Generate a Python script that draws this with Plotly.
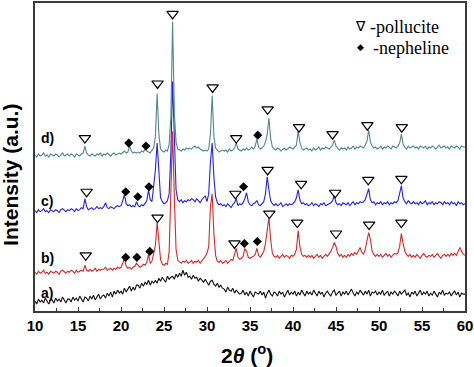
import numpy as np
import plotly.graph_objects as go

# 2-theta sampling (degrees), 0.2 step from 10 to 60
two_theta = np.round(np.arange(10.0, 60.0001, 0.2), 1)

# a) amorphous precursor (black)
int_a = [
    10, 7, 12, 9, 11, 8, 13, 10, 7, 11,
    11, 8, 13, 10, 12, 9, 14, 11, 8, 12,
    12, 9, 14, 11, 13, 10, 15, 12, 9, 14,
    13, 10, 15, 12, 16, 11, 14, 17, 12, 15,
    16, 13, 18, 15, 19, 14, 20, 17, 21, 18,
    20, 17, 23, 19, 22, 25, 20, 24, 21, 26,
    26, 23, 28, 25, 29, 27, 31, 26, 30, 28,
    31, 28, 33, 30, 34, 31, 29, 35, 32, 34,
    35, 32, 37, 34, 38, 35, 41, 36, 39, 34,
    35, 32, 36, 33, 34, 30, 33, 31, 29, 32,
    29, 26, 30, 31, 27, 25, 28, 24, 26, 23,
    22, 19, 24, 21, 20, 23, 18, 21, 19, 17,
    18, 21, 16, 19, 15, 20, 17, 14, 19, 18,
    17, 20, 16, 19, 13, 18, 21, 17, 15, 19,
    18, 15, 20, 17, 19, 14, 18, 21, 16, 19,
    17, 20, 15, 19, 16, 21, 18, 15, 20, 17,
    19, 16, 21, 18, 15, 20, 17, 19, 14, 18,
    20, 17, 15, 19, 21, 16, 18, 20, 15, 19,
    17, 20, 16, 19, 22, 18, 15, 19, 17, 21,
    18, 16, 20, 17, 21, 15, 19, 18, 20, 16,
    19, 17, 21, 16, 18, 20, 15, 19, 17, 20,
    18, 15, 20, 17, 19, 21, 16, 18, 14, 19,
    17, 20, 15, 18, 21, 16, 19, 17, 20, 15,
    18, 16, 20, 17, 14, 19, 17, 21, 16, 18,
    17, 19, 15, 18, 20, 16, 19, 14, 18, 17,
    17,
]

# b) (red)
int_b = [
    39, 37, 40, 38, 39, 41, 38, 39, 37, 40,
    39, 38, 40, 39, 37, 40, 41, 39, 38, 40,
    39, 41, 40, 38, 41, 39, 40, 41, 40, 46,
    41, 40, 42, 40, 41, 43, 40, 42, 41, 42,
    42, 44, 41, 42, 43, 41, 43, 42, 44, 43,
    44, 48, 53, 45, 43, 44, 42, 44, 45, 48,
    46, 44, 45, 47, 46, 49, 57, 48, 50, 58,
    66, 89, 72, 52, 47, 46, 48, 47, 60, 110,
    181, 115, 62, 51, 49, 48, 50, 49, 51, 48,
    49, 51, 48, 50, 49, 51, 48, 50, 52, 55,
    58, 65, 105, 118, 78, 56, 50, 49, 51, 48,
    49, 51, 48, 50, 52, 51, 57, 63, 54, 52,
    53, 55, 63, 60, 54, 53, 54, 55, 57, 63,
    56, 54, 57, 60, 68, 80, 94, 72, 58, 55,
    54, 56, 53, 55, 57, 54, 56, 55, 53, 56,
    55, 57, 62, 81, 65, 57, 55, 56, 54, 56,
    54, 56, 53, 55, 57, 54, 56, 53, 55, 57,
    55, 57, 60, 64, 69, 65, 58, 55, 57, 54,
    56, 54, 57, 55, 58, 56, 59, 57, 61, 64,
    59, 57, 62, 70, 79, 72, 60, 57, 55, 57,
    55, 57, 54, 56, 58, 55, 57, 54, 56, 58,
    57, 59, 65, 78, 68, 60, 57, 55, 57, 54,
    56, 54, 57, 55, 53, 56, 58, 55, 54, 56,
    55, 57, 54, 56, 58, 55, 53, 56, 57, 55,
    57, 55, 58, 56, 58, 56, 60, 64, 60, 57,
    56,
]

# c) (blue)
int_c = [
    101, 99, 102, 100, 101, 103, 100, 101, 99, 102,
    101, 100, 102, 101, 99, 102, 103, 101, 100, 102,
    101, 103, 102, 100, 103, 101, 102, 104, 103, 113,
    105, 102, 103, 104, 102, 103, 105, 103, 104, 103,
    105, 109, 104, 103, 105, 104, 103, 105, 106, 105,
    106, 111, 117, 108, 106, 107, 105, 106, 105, 110,
    106, 105, 107, 106, 108, 111, 122, 112, 110, 125,
    142, 169, 138, 114, 110, 108, 109, 111, 118, 160,
    231, 165, 122, 112, 110, 112, 109, 111, 110, 112,
    111, 113, 112, 110, 113, 111, 109, 112, 114, 116,
    110, 118, 150, 169, 135, 115, 109, 107, 108, 106,
    107, 105, 108, 106, 104, 107, 109, 113, 106, 108,
    107, 109, 113, 119, 110, 107, 106, 108, 109, 111,
    107, 106, 108, 110, 118, 135, 122, 111, 108, 106,
    108, 106, 107, 109, 105, 107, 108, 106, 108, 107,
    108, 110, 114, 122, 112, 108, 109, 107, 108, 106,
    107, 109, 106, 108, 107, 105, 108, 107, 109, 106,
    107, 108, 109, 111, 116, 109, 107, 108, 106, 109,
    108, 107, 109, 106, 108, 110, 107, 109, 108, 110,
    109, 110, 112, 118, 123, 112, 109, 110, 107, 109,
    108, 110, 107, 109, 108, 110, 107, 109, 108, 110,
    109, 111, 120, 126, 114, 110, 108, 111, 109, 108,
    110, 108, 109, 107, 110, 108, 109, 111, 107, 109,
    108, 110, 107, 109, 108, 110, 109, 107, 110, 108,
    109, 107, 110, 108, 109, 106, 110, 108, 109, 107,
    108,
]

# d) (teal)
int_d = [
    157, 155, 158, 156, 157, 159, 156, 157, 155, 158,
    157, 156, 158, 157, 155, 157, 159, 156, 157, 158,
    156, 158, 157, 155, 158, 157, 156, 158, 159, 166,
    159, 157, 156, 158, 157, 156, 158, 157, 159, 156,
    158, 157, 159, 157, 156, 158, 159, 157, 158, 159,
    158, 160, 161, 159, 160, 166, 161, 159, 160, 159,
    160, 159, 161, 160, 163, 161, 160, 159, 162, 164,
    176, 219, 178, 163, 161, 160, 162, 161, 168, 196,
    291, 200, 170, 163, 162, 161, 163, 162, 164, 163,
    164, 163, 165, 166, 164, 165, 163, 162, 161, 162,
    161, 163, 178, 217, 176, 164, 162, 160, 161, 162,
    161, 162, 160, 163, 161, 162, 164, 169, 163, 162,
    161, 163, 162, 164, 162, 163, 165, 163, 166, 173,
    165, 163, 164, 166, 170, 178, 194, 174, 165, 163,
    162, 164, 163, 161, 163, 164, 162, 163, 165, 164,
    163, 165, 167, 181, 170, 164, 162, 163, 164, 162,
    163, 161, 164, 162, 163, 165, 162, 164, 163, 165,
    164, 163, 165, 167, 172, 166, 164, 162, 164, 163,
    164, 162, 165, 163, 164, 166, 163, 165, 164, 166,
    165, 164, 167, 171, 182, 170, 166, 164, 165, 163,
    164, 166, 163, 165, 164, 166, 165, 163, 166, 165,
    164, 166, 169, 178, 168, 165, 163, 166, 164, 165,
    166, 164, 165, 163, 166, 165, 164, 166, 163, 165,
    164, 166, 165, 163, 165, 167, 164, 165, 166, 164,
    165, 163, 166, 165, 164, 166, 165, 163, 166, 165,
    165,
]

# phase marker positions (2theta, intensity)
poll_d_x = [15.8, 24.25, 26.0, 30.65, 33.4, 37.05, 40.7, 44.6, 48.65, 52.65]
poll_d_y = [174, 229, 299, 225, 174, 203, 185, 178, 187, 185]
neph_d_x = [20.9, 22.9, 35.9]
neph_d_y = [169, 166, 177]

poll_c_x = [16.0, 33.3, 37.05, 40.95, 44.9, 48.75, 52.6]
poll_c_y = [120, 118, 142, 128, 119, 132, 133]
neph_c_x = [20.55, 21.95, 23.25, 34.25]
neph_c_y = [120, 115, 125, 125]

poll_b_x = [15.9, 24.25, 33.2, 37.25, 40.5, 45.0, 48.85, 52.6]
poll_b_y = [56, 94, 68, 98, 89, 78, 87, 89]
neph_b_x = [20.55, 21.85, 23.35, 34.35, 35.85]
neph_b_y = [54, 54, 60, 68, 70]

series = [
    ("a)", int_a, "#111111"),
    ("b)", int_b, "#d42a2a"),
    ("c)", int_c, "#2424e6"),
    ("d)", int_d, "#4f8a84"),
]

fig = go.Figure()
for name, vals, col in series:
    fig.add_trace(go.Scatter(x=two_theta, y=vals, mode="lines", name=name,
                             line=dict(color=col, width=1.1), showlegend=False,
                             hoverinfo="skip"))

poll_x = poll_d_x + poll_c_x + poll_b_x
poll_y = poll_d_y + poll_c_y + poll_b_y
neph_x = neph_d_x + neph_c_x + neph_b_x
neph_y = neph_d_y + neph_c_y + neph_b_y

fig.add_trace(go.Scatter(x=poll_x, y=poll_y, mode="markers", showlegend=False,
                         hoverinfo="skip",
                         marker=dict(symbol="triangle-down-open", size=10,
                                     color="black", line=dict(width=1.2, color="black"))))
fig.add_trace(go.Scatter(x=neph_x, y=neph_y, mode="markers", showlegend=False,
                         hoverinfo="skip",
                         marker=dict(symbol="diamond", size=7, color="black",
                                     line=dict(width=0))))

W, H = 474, 367
L, R, T, B = 35, 8, 1, 56
pw, ph = W - L - R, H - T - B


def px(xp):
    return (xp - L) / pw


def py(yp):
    return (H - B - yp) / ph


ann = []
lab_font = dict(family="Liberation Sans", size=14, color="black", weight="bold")
for text, ypix in [("d)", 137), ("c)", 200), ("b)", 258), ("a)", 293)]:
    ann.append(dict(x=px(39), y=py(ypix), xref="paper", yref="paper", text=text,
                    showarrow=False, xanchor="left", yanchor="middle", font=lab_font))

serif = dict(family="Liberation Serif", size=18, color="black")
ann.append(dict(x=px(369), y=py(25), xref="paper", yref="paper", text="-pollucite",
                showarrow=False, xanchor="left", yanchor="middle", font=serif))
ann.append(dict(x=px(372), y=py(46), xref="paper", yref="paper", text="-nepheline",
                showarrow=False, xanchor="left", yanchor="middle", font=serif))
ann.append(dict(x=px(361), y=py(25), xref="paper", yref="paper", text="∇",
                showarrow=False, xanchor="center", yanchor="middle",
                font=dict(family="Liberation Serif", size=14, color="black")))
ann.append(dict(x=px(361), y=py(45), xref="paper", yref="paper", text="◆",
                showarrow=False, xanchor="center", yanchor="middle",
                font=dict(family="DejaVu Sans", size=9, color="black")))

ann.append(dict(x=px(247), y=py(354), xref="paper", yref="paper",
                text="2<i>θ</i> (<sup>o</sup>)", showarrow=False,
                xanchor="center", yanchor="middle",
                font=dict(family="Liberation Sans", size=21, color="black", weight="bold")))
ann.append(dict(x=px(11), y=py(174), xref="paper", yref="paper",
                text="Intensity (a.u.)", showarrow=False, textangle=-90,
                xanchor="center", yanchor="middle",
                font=dict(family="Liberation Sans", size=21, color="black", weight="bold")))

fig.update_layout(
    width=W, height=H,
    margin=dict(l=L, r=R, t=T, b=B),
    paper_bgcolor="white", plot_bgcolor="white",
    annotations=ann,
    hovermode=False,
    xaxis=dict(range=[10, 60], dtick=5, tick0=10, ticks="inside", ticklen=4,
               tickwidth=1.2, tickcolor="#333", ticklabeloverflow="allow",
               minor=dict(dtick=2.5, ticks="inside", ticklen=3, tickcolor="#333"),
               showline=True, linewidth=2, linecolor="#3a3a3a", mirror=True,
               showgrid=False, zeroline=False,
               tickfont=dict(family="Liberation Sans", size=15, color="black", weight="bold")),
    yaxis=dict(range=[0, 310], showticklabels=False, ticks="",
               showline=True, linewidth=2, linecolor="#3a3a3a", mirror=True,
               showgrid=False, zeroline=False),
)

fig.write_html("out.html", config={"displayModeBar": False},
               post_script="document.body.style.margin='0';document.body.style.overflow='hidden';")
